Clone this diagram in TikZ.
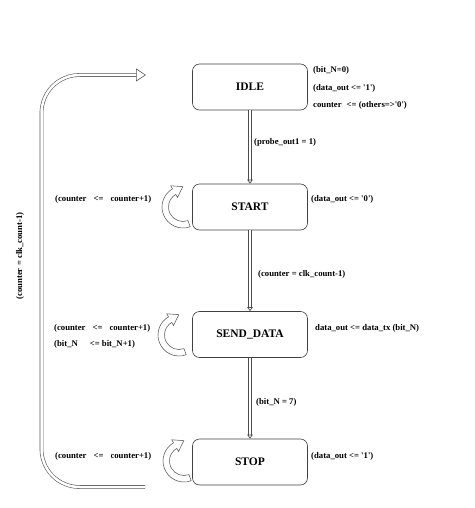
\documentclass[tikz,border=0pt]{standalone}
\usepackage{fontspec}
\setmainfont{Liberation Serif}
\usetikzlibrary{arrows.meta,calc}
\newcommand{\sq}{\textquotesingle}
\tikzset{
  selfloop/.pic={
    \draw[draw=black!65,line width=0.55pt,fill=white]
      (70:21) arc[start angle=70,end angle=240,radius=21]
      -- (240:24.5) -- ($(240:17.75)+(-30:10)$) -- (240:11) -- (240:14.5)
      arc[start angle=240,end angle=70,radius=14.5] -- cycle;
  }
}
\begin{document}
\begin{tikzpicture}[x=1pt,y=-1pt,
  state/.style={draw=black!75,line width=0.6pt,rounded corners=7pt,minimum width=115pt,minimum height=46pt,font=\fontsize{11.5}{13}\selectfont\bfseries,inner sep=0pt},
  lbl/.style={font=\fontsize{8.7}{10}\selectfont\bfseries,inner sep=0pt,anchor=west},
  dbl/.style={draw=black!70,line width=0.7pt,double=white,double distance=1.8pt},
  dblbig/.style={draw=black!65,line width=0.6pt,double=white,double distance=2.5pt}
]
\useasboundingbox (0,0) rectangle (474,508);
\node[state] (idle) at (250,87) {IDLE};
\node[state] (start) at (250,207) {START};
\node[state] (send) at (250,334.5) {SEND\_DATA};
\node[state] (stop) at (250,462) {STOP};

\draw[dbl,-{Triangle[open,length=4pt,width=5.5pt]}] (idle) -- (start);
\draw[dbl,-{Triangle[open,length=4pt,width=5.5pt]}] (start) -- (send);
\draw[dbl,-{Triangle[open,length=4pt,width=5.5pt]}] (send) -- (stop);

\pic at (183,207) {selfloop};
\pic at (179,335) {selfloop};
\pic at (184,461) {selfloop};

\coordinate (rb) at (145,487);
\coordinate (rt) at (146,75);
\draw[dblbig,rounded corners=38pt,-{Triangle[open,length=10pt,width=13pt]}] (rb) -- (41.5,487) -- (41.5,75) -- (rt);

\node[lbl] (a1) at (313,70) {(bit\_N=0)};
\node[lbl] (a2) at (313,88) {(data\_out <= \sq1\sq)};
\node[lbl] (a3) at (313,105) {counter\hspace{5pt}<= (others=>\sq0\sq)};
\node[lbl] (t1) at (254,142) {(probe\_out1 = 1)};
\node[lbl] (b1) at (55,199) {(counter\hspace{7pt}<=\hspace{7pt}counter+1)};
\node[lbl] (b2) at (311,199) {(data\_out <= \sq0\sq)};
\node[lbl] (t2) at (258,274) {(counter = clk\_count-1)};
\node[lbl] (c1) at (54,328) {(counter\hspace{7pt}<=\hspace{7pt}counter+1)};
\node[lbl] (c2) at (54,344) {(bit\_N\hspace{12pt}<= bit\_N+1)};
\node[lbl] (c3) at (315,328) {data\_out <= data\_tx (bit\_N)};
\node[lbl] (t3) at (256,402) {(bit\_N = 7)};
\node[lbl] (d1) at (55,456) {(counter\hspace{7pt}<=\hspace{7pt}counter+1)};
\node[lbl] (d2) at (311,456) {(data\_out <= \sq1\sq)};
\node[lbl,rotate=90,anchor=center] (r1) at (20,256) {(counter = clk\_count-1)};
\end{tikzpicture}
\end{document}
